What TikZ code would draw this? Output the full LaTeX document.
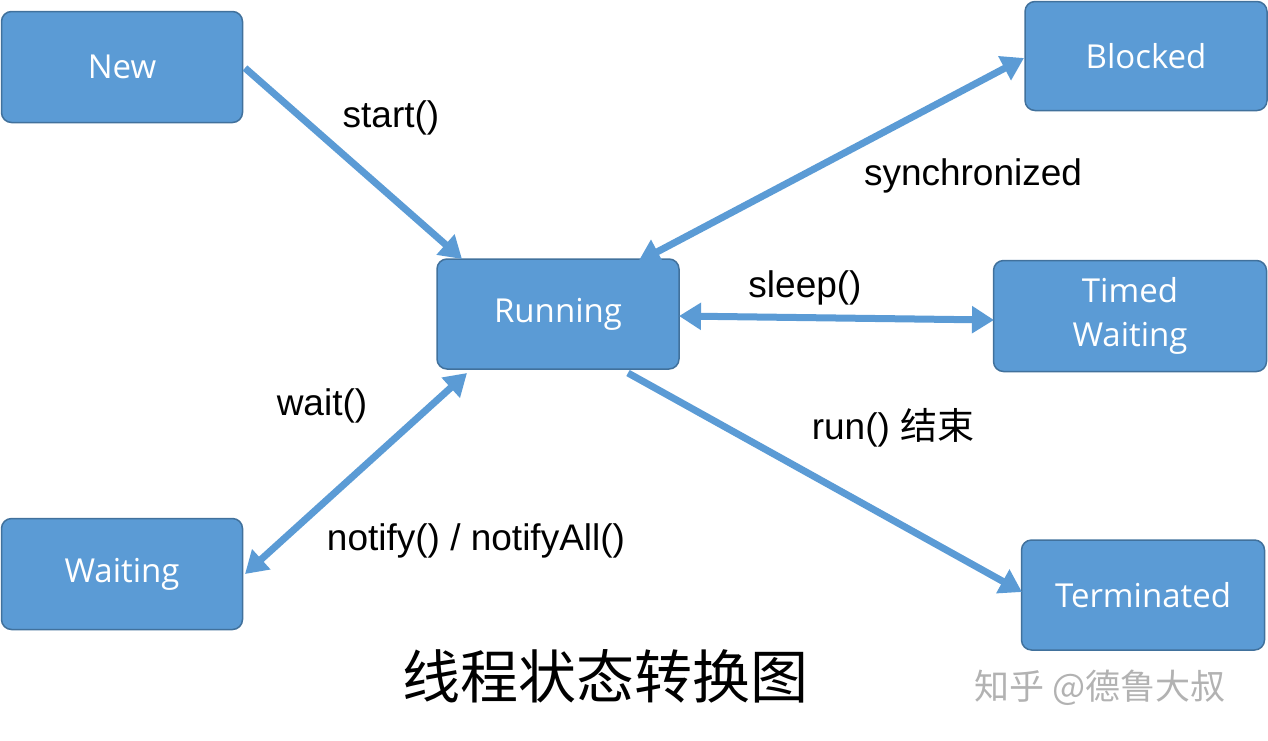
\documentclass[tikz,border=0pt]{standalone}
\usepackage{fontspec}
\setmainfont{Liberation Sans}
\newfontfamily\cjk{Noto Sans CJK SC}
\newfontfamily\boxfont{Open Sans}
\usetikzlibrary{arrows.meta}
\definecolor{boxfill}{HTML}{5B9BD5}
\definecolor{boxdraw}{HTML}{41719C}
\begin{document}
\begin{tikzpicture}[x=1pt,y=-1pt,
  st/.style={draw=boxdraw,line width=1.5pt,fill=boxfill,rounded corners=10pt,text=white,font=\boxfont\fontsize{33}{40}\selectfont,align=center},
  ar/.style={draw=boxfill,line width=7pt,-{Triangle[length=22pt,width=26pt]}},
  dar/.style={draw=boxfill,line width=7pt,{Triangle[length=22pt,width=26pt]}-{Triangle[length=22pt,width=26pt]}},
  lb/.style={font=\fontsize{37}{42}\selectfont}]
\useasboundingbox (0,0) rectangle (1268,740);
\node[st,minimum width=241pt,minimum height=111pt] (new) at (122,67) {\raisebox{-5pt}{New}};
\node[st,minimum width=242pt,minimum height=109pt] (blk) at (1146,56) {\raisebox{-3pt}{Blocked}};
\node[st,minimum width=242pt,minimum height=110pt] (run) at (558,314) {\raisebox{-5pt}{Running}};
\node[st,minimum width=273pt,minimum height=111pt,font=\boxfont\fontsize{33}{44}\selectfont] (tw) at (1130,316) {Timed\\Waiting};
\node[st,minimum width=241pt,minimum height=111pt] (wt) at (122,574) {\raisebox{-5pt}{Waiting}};
\node[st,minimum width=243pt,minimum height=110pt] (term) at (1143,595) {\raisebox{-2pt}{Terminated}};
\coordinate (a1) at (245,68); \coordinate (a2) at (462,259);
\coordinate (b1) at (638,262); \coordinate (b2) at (1024,58);
\coordinate (c1) at (679,316); \coordinate (c2) at (994,320);
\coordinate (d1) at (467,373); \coordinate (d2) at (245,574);
\coordinate (e1) at (628,373); \coordinate (e2) at (1022,592);
\draw[ar] (a1) -- (a2);
\draw[dar] (b1) -- (b2);
\draw[dar] (c1) -- (c2);
\draw[dar] (d1) -- (d2);
\draw[ar] (e1) -- (e2);
\node[lb] (l1) at (391,118) {start()};
\node[lb] (l2) at (973,176) {synchronized};
\node[lb] (l3) at (805,288) {sleep()};
\node[lb] (l4) at (322,406) {wait()};
\node[lb] (l5) at (476,541) {notify() / notifyAll()};
\node[lb] (l6) at (893,428) {run() {\cjk 结束}};
\node[font=\cjk\fontsize{58}{64}\selectfont] (title) at (605,676) {线程状态转换图};
\node[font=\cjk\fontsize{35}{40}\selectfont,text=black!30] (wm) at (1100,688) {知乎 @德鲁大叔};
\end{tikzpicture}
\end{document}
